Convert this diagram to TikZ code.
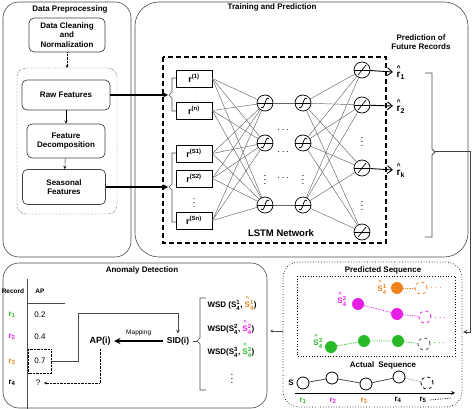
\documentclass[tikz,border=0pt]{standalone}
\usepackage{fontspec}
\setmainfont{Liberation Sans}
\usepackage{amsmath}
\usetikzlibrary{arrows.meta}
\definecolor{recgreen}{RGB}{40,185,40}
\definecolor{recpink}{RGB}{230,30,230}
\definecolor{recorange}{RGB}{240,130,30}
% hatted letters as printed in the figure
\newcommand{\hatof}[2]{$\overset{\text{\^{}}}{\text{#1}}{}_{\text{#2}}$}
\newcommand{\hatS}[1]{$\overset{\text{\^{}}}{\text{S}}{}^{\text{#1}}_{\text{4}}$}
\newcommand{\plainS}[1]{S$^{\text{#1}}_{\text{4}}$}

\begin{document}
\begin{tikzpicture}[x=1pt,y=-1pt,>=stealth,
    panel/.style={draw=black!70, rounded corners=16pt, line width=0.6pt},
    prebox/.style={draw=black!75, rounded corners=5pt, line width=0.7pt, align=center,
      font=\fontsize{8}{9.5}\selectfont\bfseries, inner sep=1pt},
    inbox/.style={draw, line width=0.7pt, minimum width=36pt, minimum height=17pt,
      inner sep=0pt, font=\fontsize{9}{10}\selectfont\bfseries},
    cell/.style={circle, draw, line width=0.7pt, minimum size=16pt, inner sep=0pt},
    title/.style={font=\fontsize{8}{9.5}\selectfont\bfseries, align=center},
    wire/.style={draw=black!60, line width=0.45pt},
    seqdot/.style={circle, minimum size=12pt, inner sep=0pt},
    small/.style={font=\fontsize{8}{9}\selectfont\bfseries},
    tiny/.style={font=\fontsize{6.5}{7.5}\selectfont}]
  \useasboundingbox (0,0) rectangle (474,409);
  %%%%%%%%%%%%%%%%%%%%%%%%%%%%%%%%%%%%%%%%%%
  %%% Data preprocessing
  %%%%%%%%%%%%%%%%%%%%%%%%%%%%%%%%%%%%%%%%%%
  \draw[panel] (3,2) rectangle (131,257);
  \node[title] (tprep) at (70,9) {Data Preprocessing};
  \node[prebox, minimum width=76pt, minimum height=34pt] (clean) at (67,35)
      {Data Cleaning\\and\\Normalization};
  \draw[densely dotted, rounded corners=9pt] (17,68) rectangle (117,214);
  \coordinate (boxtop) at (67,68);
  \draw[->, densely dotted] (clean) -- (boxtop);
  \node[prebox, minimum width=88pt, minimum height=30pt] (raw) at (66,95) {Raw Features};
  \node[prebox, minimum width=78pt, minimum height=34pt] (decomp) at (66,141)
      {Feature\\Decomposition};
  \node[prebox, minimum width=83pt, minimum height=35pt] (seas) at (64,187)
      {Seasonal\\Features};
  \draw[->] (raw) -- (decomp);
  \draw[->] (decomp) -- (seas);

  %%%%%%%%%%%%%%%%%%%%%%%%%%%%%%%%%%%%%%%%%%
  %%% Training and prediction
  %%%%%%%%%%%%%%%%%%%%%%%%%%%%%%%%%%%%%%%%%%
  \draw[panel, rounded corners=24pt] (135,2) rectangle (468,257);
  \node[title] (ttrain) at (272,7) {Training and Prediction};
  \draw[line width=1.2pt, dash pattern=on 5pt off 3pt] (163,57) rectangle (386,243);
  \node[font=\fontsize{9.5}{11}\selectfont\bfseries] (lstm) at (281,233) {LSTM Network};

  % input records
  \foreach \i/\y/\lab in {1/78.5/(1), 2/110.5/(n), 3/153.5/(S1), 4/178.5/(S2), 5/220.5/(Sn)}
      \node[inbox] (in\i) at (194,\y) {r\textsuperscript{\lab}};
  \node[font=\tiny, text=black!50] (vd1) at (196,94) {$\vdots$};
  \node[font=\small] (vd2) at (194,200) {$\vdots$};
  % braces in front of the inputs
  \draw[black!70, line width=0.6pt] (176,78) -- (172,78) -- (172,92) -- (169,95) -- (172,98) -- (172,111) -- (176,111);
  \draw[black!70, line width=0.6pt] (176,153) -- (172,153) -- (172,184) -- (169,187) -- (172,190) -- (172,222) -- (176,222);
  \coordinate (rawin) at (168,95);
  \coordinate (seasin) at (168,187);
  \draw[->, line width=1.2pt] (raw) -- (rawin);
  \draw[->, line width=1.2pt] (seas) -- (seasin);

  % hidden and output cells
  \foreach \i/\y in {1/103, 2/143, 3/205}
     {\node[cell] (ha\i) at (265,\y) {};
      \node[cell] (hb\i) at (303,\y) {};}
  \foreach \k/\y in {1/70, 2/105, 3/168, 4/232}
      \node[cell] (out\k) at (362,\y) {};
  % connections
  \foreach \i in {1,...,5}
     \foreach \j in {1,2,3}
        \draw[wire] (in\i.east) -- (ha\j);
  \draw[wire] (ha1) -- (hb1);
  \draw[wire] (ha3) -- (hb3);
  \foreach \j in {1,2,3}
     \foreach \k in {1,...,4}
        \draw[wire] (hb\j) -- (out\k);
  % glyphs inside the cells
  \foreach \c in {ha1,ha2,ha3,hb1,hb2,hb3}
     {\begin{scope}[shift={(\c.center)}]
        \draw[line width=0.6pt] (-8,0) -- (8,0);
        \draw[line width=0.7pt] (-4,4) .. controls (-2,6.5) and (-1,3) .. (0,0)
                                     .. controls (1,-3) and (2,-6.5) .. (4,-4);
     \end{scope}}
  \foreach \c in {out1,out2,out3,out4}
     {\begin{scope}[shift={(\c.center)}]
        \draw[line width=0.6pt] (-8,0) -- (8,0);
        \draw[line width=0.7pt] (-4,5) -- (4,-5);
     \end{scope}}
  % dots between the layers
  \node (hd1) at (284,130) {$\cdots$};
  \node (hd2) at (284,152) {$\cdots$};
  \node (hd3) at (284,178) {$\cdots$};
  \node (hv1) at (265,177) {$\vdots$};
  \node (hv2) at (303,177) {$\vdots$};
  \node (ov1) at (362,139) {$\vdots$};
  \node (ov2) at (362,203) {$\vdots$};

  % predicted records
  \node[title] (tpred) at (421,42) {Prediction of\\Future Records};
  \foreach \k/\lab/\y in {1/1/72, 2/2/106, 3/k/170}
     {\node[font=\fontsize{10}{11}\selectfont\bfseries, anchor=west] (rh\k) at (393,\y) {\hatof{r}{\lab}};
      \draw[-{Straight Barb[length=5pt,width=8pt]}, line width=0.9pt] (out\k) -- (rh\k.west);}
  \draw[black!70, line width=0.8pt] (425,73) -- (432,73) -- (432,149) -- (435,152) -- (432,155) -- (432,237) -- (425,237);
  \coordinate (brtip) at (435,152);
  \coordinate (feedA) at (470,152);
  \coordinate (feedB) at (470,332);
  \coordinate (feedC) at (463,332);
  \draw[->, line width=1pt, black!75] (brtip) -- (feedA) -- (feedB) -- (feedC);

  %%%%%%%%%%%%%%%%%%%%%%%%%%%%%%%%%%%%%%%%%%
  %%% Anomaly detection
  %%%%%%%%%%%%%%%%%%%%%%%%%%%%%%%%%%%%%%%%%%
  \draw[panel] (3,263) rectangle (267,408);
  \node[title] (tanom) at (142,270) {Anomaly Detection};
  % table of anomaly probabilities
  \node[font=\fontsize{6.5}{7.5}\selectfont\bfseries] (hrec) at (13,291) {Record};
  \node[font=\fontsize{6.5}{7.5}\selectfont\bfseries] (hap) at (40,291) {AP};
  \draw[black!70, line width=0.9pt] (27,279) -- (27,409);
  \draw[black!70, line width=0.7pt] (27,303) -- (65,303);
  \node[small, text=recgreen] (rec1) at (12,315) {r$_{\text{1}}$};
  \node[small, text=recpink] (rec2) at (12,337) {r$_{\text{2}}$};
  \node[small, text=recorange] (rec3) at (12,362) {r$_{\text{3}}$};
  \node[small] (rec4) at (12,383) {r$_{\text{4}}$};
  \node[font=\fontsize{8}{9}\selectfont] (ap1) at (40,315) {0.2};
  \node[font=\fontsize{8}{9}\selectfont] (ap2) at (40,337) {0.4};
  \node[font=\fontsize{8}{9}\selectfont, draw, densely dotted, minimum width=23pt, minimum height=24pt] (ap3) at (40,361) {0.7};
  \node[font=\fontsize{8}{9}\selectfont] (ap4) at (38,383) {?};
  % mapping to the anomaly probability
  \node[font=\fontsize{9}{10}\selectfont\bfseries] (api) at (100,341) {AP(i)};
  \node[font=\fontsize{8.5}{10}\selectfont\bfseries] (sid) at (178,341) {SID(i)};
  \draw[->, line width=1.8pt] (sid) -- (api) node[midway, above=1pt, tiny] {Mapping};
  \draw[->, black!70, line width=0.7pt] (ap3.east) -- (78,361) -- (78,313) -| (sid.north);
  \draw[->, densely dotted] (api.south) |- (ap4.east);
  % window distances
  \draw[black!70, line width=0.6pt] (206,298) -- (200,298) -- (200,338) -- (197,341) -- (200,344) -- (200,390) -- (206,390);
  \coordinate (sidtip) at (197,341);
  \draw[black!70, line width=0.6pt] (sid) -- (sidtip);
  \node[small, anchor=west] (wsd1) at (204,303) {WSD (\plainS{1}, {\color{recorange}\hatS{1}})};
  \node[small, anchor=west] (wsd2) at (204,327) {WSD(\plainS{2}, {\color{recpink}\hatS{2}})};
  \node[small, anchor=west] (wsd3) at (204,350) {WSD(\plainS{3}, {\color{recgreen}\hatS{3}})};
  \node (wv) at (232,376) {$\vdots$};

  %%%%%%%%%%%%%%%%%%%%%%%%%%%%%%%%%%%%%%%%%%
  %%% Predicted and actual sequences
  %%%%%%%%%%%%%%%%%%%%%%%%%%%%%%%%%%%%%%%%%%
  \draw[dotted, line width=0.7pt, rounded corners=16pt] (283,262) rectangle (462,407);
  \draw[dotted, line width=0.7pt] (297,276) rectangle (455,356);
  \coordinate (predL) at (283,331);
  \coordinate (anomR) at (270,331);
  \draw[->, black!70] (predL) -- (anomR);
  \node[title] (tpseq) at (383,270) {Predicted Sequence};
  % first window
  \node[seqdot, fill=recorange] (p11) at (397,288) {};
  \node[seqdot, draw=recorange, dashed, thick] (p1x) at (421,288) {};
  \draw[recorange, densely dotted, thick] (p11) -- (p1x);
  \node[text=recorange] (p1d) at (437,288) {$\cdots$};
  \node[small, text=recorange] (l1) at (382,287) {\hatS{1}};
  % second window
  \node[seqdot, fill=recpink] (p21) at (358,304) {};
  \node[seqdot, fill=recpink] (p22) at (397,314) {};
  \node[seqdot, draw=recpink, dashed, thick] (p2x) at (425,317) {};
  \draw[recpink, densely dotted, thick] (p21) -- (p22) -- (p2x);
  \node[text=recpink] (p2d) at (441,318) {$\cdots$};
  \node[small, text=recpink] (l2) at (342,299) {\hatS{2}};
  % third window
  \node[seqdot, fill=recgreen] (p31) at (331,347) {};
  \node[seqdot, fill=recgreen] (p32) at (364,341) {};
  \node[seqdot, fill=recgreen] (p33) at (398,341) {};
  \node[seqdot, draw=black!70, dashed, thick] (p3x) at (424,344) {};
  \draw[recgreen, densely dotted, thick] (p31) -- (p32) -- (p33) -- (p3x);
  \node[text=recgreen] (p3d) at (440,343) {$\cdots$};
  \node[small, text=recgreen] (l3) at (318,341) {\hatS{3}};
  % actual sequence
  \node[title] (taseq) at (383,365) {Actual\enspace Sequence};
  \node[small] (sl) at (291,383) {S};
  \node[seqdot, draw, thick] (s1) at (303,383) {};
  \node[seqdot, draw, thick] (s2) at (332,378) {};
  \node[seqdot, draw, thick] (s3) at (366,384) {};
  \node[seqdot, draw, thick] (s4) at (399,377) {};
  \node[seqdot, draw, dashed, thick] (s5) at (427,383) {};
  \draw[black!70, line width=0.8pt] (s1) -- (s2) -- (s3) -- (s4);
  \draw[densely dotted] (s4) -- (s5);
  \coordinate (axA) at (295,393);
  \coordinate (axB) at (455,393);
  \draw[->, line width=0.7pt] (axA) -- (axB);
  \node[small, text=recgreen] (x1) at (303,401) {r$_{\text{1}}$};
  \node[small, text=recpink] (x2) at (333,401) {r$_{\text{2}}$};
  \node[small, text=recorange] (x3) at (364,401) {r$_{\text{3}}$};
  \node[small] (x4) at (398,400) {r$_{\text{4}}$};
  \node[small] (x5) at (423,400) {r$_{\text{5}}$};
  \coordinate (x5end) at (452,398);
  \draw[densely dotted, line width=0.7pt] (x5.east) -- (x5end);
\end{tikzpicture}
\end{document}
